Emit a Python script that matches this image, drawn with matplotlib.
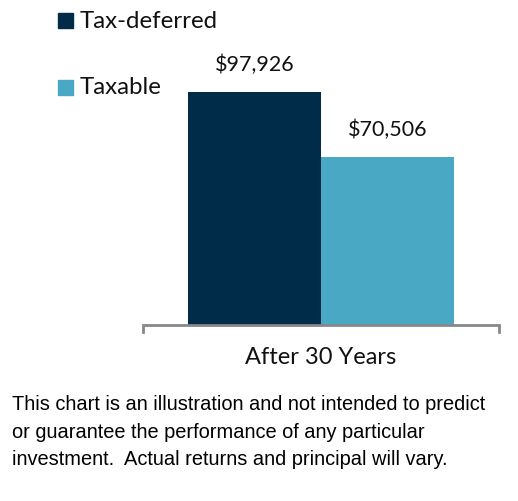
import matplotlib.pyplot as plt
from matplotlib.patches import Rectangle

series = ['Tax-deferred', 'Taxable']
values = [97926, 70506]
value_labels = ['$97,926', '$70,506']
category = 'After 30 Years'
colors = ['#002B49', '#49A9C5']
footer = ('This chart is an illustration and not intended to predict\n'
          'or guarantee the performance of any particular\n'
          'investment.  Actual returns and principal will vary.')

W, H = 518, 502
fig = plt.figure(figsize=(W/100, H/100), dpi=100)

# axes: baseline at y=326 px, top at y=93 px (value of first bar)
ax = fig.add_axes([143/W, (H-326)/H, 356/W, (326-93)/H])
ax.set_ylim(0, values[0])
half = 356/2/133
ax.set_xlim(-half, half)

pos = [-0.5, 0.5]
for p, v, c, lab in zip(pos, values, colors, value_labels):
    ax.bar(p, v, width=1.0, color=c, linewidth=0)
    ax.annotate(lab, (p, v), xytext=(0, 13), textcoords='offset points',
                ha='center', va='bottom', fontsize=15.5, family='Lato',
                color='#111111')

for s in ['top', 'left', 'right', 'bottom']:
    ax.spines[s].set_visible(False)
ax.set_xticks([])
ax.set_yticks([])
# baseline with end ticks
ax.plot([-half, -half, half, half], [-values[0]*0.03, 0, 0, -values[0]*0.03],
        color='#888888', lw=2, clip_on=False, solid_joinstyle='miter')

fig.text(321/W, 1-358/H, category, ha='center', va='center', fontsize=17,
         family='Lato', color='#111111')

# legend
legend_y = [21, 88]
for name, c, y in zip(series, colors, legend_y):
    fig.patches.append(Rectangle((58/W, 1-(y+7.5)/H), 15/W, 15/H,
                                 transform=fig.transFigure, color=c))
    fig.text(80/W, 1-y/H, name, ha='left', va='center', fontsize=17.3,
             family='Lato', color='#111111')

fig.text(12/W, 1-395/H, footer, ha='left', va='top', fontsize=14.4,
         family='Liberation Sans', linespacing=1.57, color='#000000')

fig.savefig('out.png', dpi=100)
